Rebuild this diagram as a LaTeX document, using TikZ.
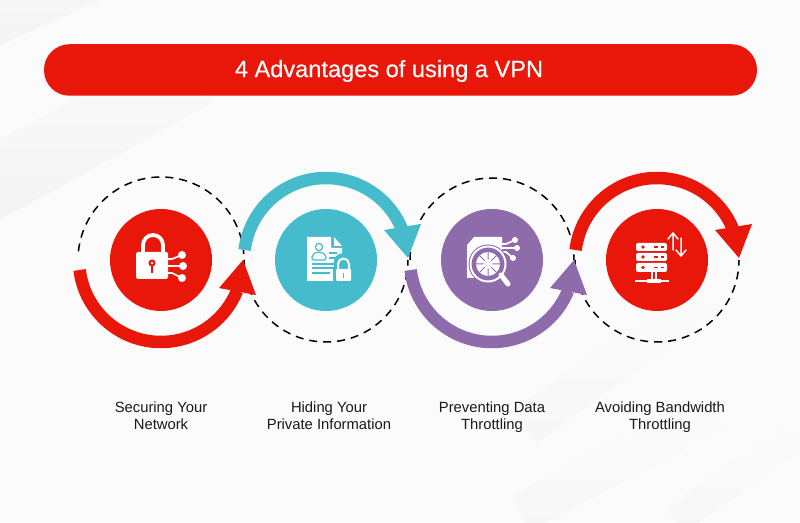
\documentclass[tikz,border=0pt]{standalone}
\usepackage{fontspec}
\setmainfont{Liberation Sans}
\newfontfamily\titlefont[FakeBold=0.3]{Liberation Sans}

\definecolor{vpnred}{HTML}{E8170A}
\definecolor{vpnteal}{HTML}{46BBCB}
\definecolor{vpnpurple}{HTML}{8E6BAB}
\definecolor{paper}{HTML}{FBFBFB}
\definecolor{shadeband}{HTML}{F3F3F3}
\definecolor{faintband}{HTML}{F7F7F7}

\tikzset{
  disc/.style={circle,minimum size=102pt,inner sep=0pt,fill=#1},
  dashring/.style={draw=black,line width=1.5pt,dash pattern=on 8pt off 6pt},
  sweep/.style={draw=#1,line width=12.5pt},
  caption/.style={align=center,anchor=north,font=\fontsize{14.8}{17}\selectfont,text=black!90,inner sep=0pt,execute at begin node=\strut},
  softband/.style={bottom color=#1,top color=paper},
  pics/lockicon/.style={code={
    \draw[white,line width=3.8pt] (-18,7) -- (-18,15) arc[start angle=180,end angle=0,radius=10] -- (2,7);
    \fill[white,rounded corners=2pt] (-25,-19) rectangle (7,8);
    \fill[vpnred] (-9,-3) circle (3.6) (-10,-3) rectangle (-8,-13);
    \fill[white] (-9,-3) circle (1.4);
    \draw[white,line width=1.7pt] (5,1) -- (11,1) -- (21,5) (5,-6) -- (21,-6) (5,-13) -- (11,-13) -- (21,-18);
    \fill[white] (21,5) circle (4) (22,-6) circle (4) (21,-18) circle (4);
  }},
  pics/docicon/.style={code={
    \fill[white] (-19,23) -- (5,23) -- (5,12) -- (16,12) -- (16,-21) -- (-19,-21) -- cycle;
    \fill[white] (8,23) -- (16,14) -- (8,14) -- cycle;
    \draw[vpnteal,line width=1.2pt] (-7,13) circle (3.6);
    \draw[vpnteal,line width=1.2pt,rounded corners=2pt] (-14,0) -- (-14,5) -- (-9,8) -- (-5,8) -- (0,5) -- (0,0) -- cycle;
    \draw[vpnteal,line width=1.4pt] (3,7) -- (11,7) (3,2) -- (11,2) (-14,-4) -- (8,-4) (-14,-8) -- (8,-8) (-14,-13) -- (4,-13);
    \fill[vpnteal,rounded corners=2pt] (7,-23) rectangle (28,-6);
    \fill[vpnteal] (17.5,-3) circle (10);
    \draw[white,line width=2pt] (12,-9) -- (12,-4) arc[start angle=180,end angle=0,radius=5.5] -- (23,-9);
    \fill[white,rounded corners=1pt] (10,-21) rectangle (25,-9);
    \fill[vpnteal] (16.7,-18) rectangle (18.3,-13);
  }},
  pics/searchicon/.style={code={
    \fill[white] (-25,15) -- (-18,23) -- (10,23) -- (10,5) -- (-8,-18) -- (-25,-18) -- cycle;
    \draw[white,line width=1.7pt] (6,16) -- (14,16) -- (23,20) (6,12) -- (25,12) (6,8) -- (14,8) -- (21,2);
    \fill[white] (23,20) circle (3) (25,12) circle (3) (21,2) circle (3);
    \fill[vpnpurple] (-4,-4) circle (19.5);
    \draw[white,line width=2pt] (-4,-4) circle (17.5);
    \fill[white] (-4,-4) circle (12);
    \draw[vpnpurple,line width=1pt] (-16,-4) -- (8,-4) (-4,-16) -- (-4,8) (-12.5,-12.5) -- (4.5,4.5) (-12.5,4.5) -- (4.5,-12.5);
    \fill[white] (-4,-4) circle (4.5);
    \draw[white,line width=5pt,line cap=round] (9,-15) -- (16,-24);
  }},
  pics/servericon/.style={code={
    \fill[white,rounded corners=2pt] (-21,9) rectangle (10,17) (-21,-1) rectangle (10,7) (-21,-12) rectangle (10,-3);
    \fill[vpnred] (-14,13) circle (1.8) (-14,3) circle (1.8) (-14,-7.5) circle (1.8);
    \draw[vpnred,line width=1.2pt] (-3,13) -- (1,13) (4,13) -- (7,13) (-3,3) -- (1,3) (4,3) -- (7,3) (-3,-7.5) -- (1,-7.5) (4,-7.5) -- (7,-7.5);
    \draw[white,line width=1.3pt] (-5,-12) -- (-5,-19) (-1,-12) -- (-1,-19) (-22,-21) -- (12,-21);
    \fill[white] (-10,-23) rectangle (4,-19);
    \draw[white,line width=1.5pt,line cap=round,line join=round] (16,10) -- (16,27) (11,21) -- (16,27) -- (21,21) (24,5) -- (24,22) (19,10) -- (24,4) -- (29,10);
  }},
}

% arc under a disc, running left to right, and arc over a disc
\newcommand{\SweepBelow}[2]{
  \draw[sweep=#2] ([shift={(187:82)}]#1.center) arc[start angle=187,end angle=338,radius=82];
  \fill[#2] ([shift={(82,0)}]#1.center) -- ([shift={(58,-28)}]#1.center) -- ([shift={(95,-35)}]#1.center) -- cycle;
}
\newcommand{\SweepAbove}[2]{
  \draw[sweep=#2] ([shift={(173:82)}]#1.center) arc[start angle=173,end angle=22,radius=82];
  \fill[#2] ([shift={(82,2)}]#1.center) -- ([shift={(58,30)}]#1.center) -- ([shift={(95,36)}]#1.center) -- cycle;
}

\begin{document}
\begin{tikzpicture}[x=1pt,y=1pt]
    \useasboundingbox (0,0) rectangle (800,522);

    % background
    \fill[paper] (0,0) rectangle (800,522);
    \begin{scope}
      \clip (0,0) rectangle (800,522);
      \shade[softband=shadeband,shift={(0,302)},rotate=29] (-20,0) rectangle (240,70);
      \shade[softband=shadeband,shift={(0,477)},rotate=24] (-20,0) rectangle (125,40);
      \shade[softband=faintband,shift={(537,79)},rotate=36] (0,0) rectangle (230,40);
      \shade[softband=faintband,shift={(547,0)},rotate=28] (-20,0) rectangle (200,40);
      \shade[softband=faintband,shift={(700,0)},rotate=36] (-20,0) rectangle (150,30);
    \end{scope}

    % title
    \node[fill=vpnred,rounded corners=25.5pt,minimum width=713pt,minimum height=51.5pt,inner sep=0pt] (title) at (400.5,452) {};
    \node[text=white,font=\titlefont\fontsize{23.6}{26}\selectfont] (titletext) at (389,451) {4 Advantages of using a VPN};

    % discs
    \node[disc=vpnred] (discA) at (161,262) {};
    \node[disc=vpnteal] (discB) at (326,262) {};
    \node[disc=vpnpurple] (discC) at (492,262) {};
    \node[disc=vpnred] (discD) at (657,262) {};

    % dashed half rings
    \draw[dashring] ([shift={(174:83)}]discA.center) arc[start angle=174,end angle=0,radius=83];
    \draw[dashring] ([shift={(180:82)}]discB.center) arc[start angle=180,end angle=360,radius=82];
    \draw[dashring] ([shift={(180:82)}]discC.center) arc[start angle=180,end angle=0,radius=82];
    \draw[dashring] ([shift={(180:82)}]discD.center) arc[start angle=180,end angle=360,radius=82];

    % sweeps
    \SweepBelow{discA}{vpnred}
    \SweepAbove{discB}{vpnteal}
    \SweepBelow{discC}{vpnpurple}
    \SweepAbove{discD}{vpnred}

    % icons
    \pic at (discA.center) {lockicon};
    \pic at (discB.center) {docicon};
    \pic at (discC.center) {searchicon};
    \pic at (discD.center) {servericon};

    % captions
    \node[caption] (capA) at (161,120) {Securing Your\\Network};
    \node[caption] (capB) at (329,120) {Hiding Your\\Private Information};
    \node[caption] (capC) at (492,120) {Preventing Data\\Throttling};
    \node[caption] (capD) at (660,120) {Avoiding Bandwidth\\Throttling};
\end{tikzpicture}
\end{document}
